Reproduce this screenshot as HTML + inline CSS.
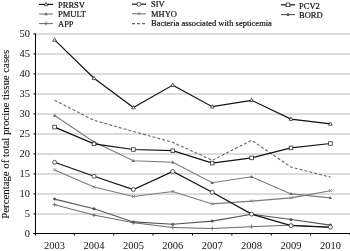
<!DOCTYPE html>
<html><head><meta charset="utf-8"><style>
html,body{margin:0;padding:0;background:#fff;}
svg{display:block;}
.tk{font-family:"Liberation Serif",serif;font-size:10.5px;fill:#111;}
.lg{font-family:"Liberation Serif",serif;font-size:8.5px;fill:#111;stroke:#111;stroke-width:0.2px;}
.yl{font-family:"Liberation Serif",serif;font-size:10.8px;fill:#111;stroke:#111;stroke-width:0.12px;}
</style></head><body>
<svg width="350" height="251" viewBox="0 0 350 251">
<line x1="36" y1="213.9" x2="350" y2="213.9" stroke="#d0d0d0" stroke-width="1.5"/>
<line x1="36" y1="193.9" x2="350" y2="193.9" stroke="#d0d0d0" stroke-width="1.5"/>
<line x1="36" y1="173.9" x2="350" y2="173.9" stroke="#d0d0d0" stroke-width="1.5"/>
<line x1="36" y1="153.9" x2="350" y2="153.9" stroke="#d0d0d0" stroke-width="1.5"/>
<line x1="36" y1="133.9" x2="350" y2="133.9" stroke="#d0d0d0" stroke-width="1.5"/>
<line x1="36" y1="113.9" x2="350" y2="113.9" stroke="#d0d0d0" stroke-width="1.5"/>
<line x1="36" y1="93.9" x2="350" y2="93.9" stroke="#d0d0d0" stroke-width="1.5"/>
<line x1="36" y1="73.9" x2="350" y2="73.9" stroke="#d0d0d0" stroke-width="1.5"/>
<line x1="36" y1="53.900000000000006" x2="350" y2="53.900000000000006" stroke="#d0d0d0" stroke-width="1.5"/>
<line x1="36" y1="33.900000000000006" x2="350" y2="33.900000000000006" stroke="#d0d0d0" stroke-width="1.5"/>
<line x1="35.5" y1="33.5" x2="35.5" y2="234" stroke="#000" stroke-width="1"/>
<line x1="33.5" y1="233.5" x2="350" y2="233.5" stroke="#000" stroke-width="1"/>
<line x1="33.5" y1="233.5" x2="35.5" y2="233.5" stroke="#000" stroke-width="1"/>
<text transform="translate(30,237.00) scale(1,1.04)" text-anchor="end" class="tk">0</text>
<line x1="33.5" y1="213.9" x2="35.5" y2="213.9" stroke="#000" stroke-width="1"/>
<text transform="translate(30,217.40) scale(1,1.04)" text-anchor="end" class="tk">5</text>
<line x1="33.5" y1="193.9" x2="35.5" y2="193.9" stroke="#000" stroke-width="1"/>
<text transform="translate(30,197.40) scale(1,1.04)" text-anchor="end" class="tk">10</text>
<line x1="33.5" y1="173.9" x2="35.5" y2="173.9" stroke="#000" stroke-width="1"/>
<text transform="translate(30,177.40) scale(1,1.04)" text-anchor="end" class="tk">15</text>
<line x1="33.5" y1="153.9" x2="35.5" y2="153.9" stroke="#000" stroke-width="1"/>
<text transform="translate(30,157.40) scale(1,1.04)" text-anchor="end" class="tk">20</text>
<line x1="33.5" y1="133.9" x2="35.5" y2="133.9" stroke="#000" stroke-width="1"/>
<text transform="translate(30,137.40) scale(1,1.04)" text-anchor="end" class="tk">25</text>
<line x1="33.5" y1="113.9" x2="35.5" y2="113.9" stroke="#000" stroke-width="1"/>
<text transform="translate(30,117.40) scale(1,1.04)" text-anchor="end" class="tk">30</text>
<line x1="33.5" y1="93.9" x2="35.5" y2="93.9" stroke="#000" stroke-width="1"/>
<text transform="translate(30,97.40) scale(1,1.04)" text-anchor="end" class="tk">35</text>
<line x1="33.5" y1="73.9" x2="35.5" y2="73.9" stroke="#000" stroke-width="1"/>
<text transform="translate(30,77.40) scale(1,1.04)" text-anchor="end" class="tk">40</text>
<line x1="33.5" y1="53.900000000000006" x2="35.5" y2="53.900000000000006" stroke="#000" stroke-width="1"/>
<text transform="translate(30,57.40) scale(1,1.04)" text-anchor="end" class="tk">45</text>
<line x1="33.5" y1="33.900000000000006" x2="35.5" y2="33.900000000000006" stroke="#000" stroke-width="1"/>
<text transform="translate(30,37.40) scale(1,1.04)" text-anchor="end" class="tk">50</text>
<line x1="35.50" y1="233.5" x2="35.50" y2="235.5" stroke="#000" stroke-width="1"/>
<line x1="74.30" y1="233.5" x2="74.30" y2="235.5" stroke="#000" stroke-width="1"/>
<line x1="113.70" y1="233.5" x2="113.70" y2="235.5" stroke="#000" stroke-width="1"/>
<line x1="153.10" y1="233.5" x2="153.10" y2="235.5" stroke="#000" stroke-width="1"/>
<line x1="192.50" y1="233.5" x2="192.50" y2="235.5" stroke="#000" stroke-width="1"/>
<line x1="231.90" y1="233.5" x2="231.90" y2="235.5" stroke="#000" stroke-width="1"/>
<line x1="271.30" y1="233.5" x2="271.30" y2="235.5" stroke="#000" stroke-width="1"/>
<line x1="310.70" y1="233.5" x2="310.70" y2="235.5" stroke="#000" stroke-width="1"/>
<line x1="350.10" y1="233.5" x2="350.10" y2="235.5" stroke="#000" stroke-width="1"/>
<text transform="translate(54.60,248.6) scale(1,1.04)" text-anchor="middle" class="tk">2003</text>
<text transform="translate(94.00,248.6) scale(1,1.04)" text-anchor="middle" class="tk">2004</text>
<text transform="translate(133.40,248.6) scale(1,1.04)" text-anchor="middle" class="tk">2005</text>
<text transform="translate(172.80,248.6) scale(1,1.04)" text-anchor="middle" class="tk">2006</text>
<text transform="translate(212.20,248.6) scale(1,1.04)" text-anchor="middle" class="tk">2007</text>
<text transform="translate(251.60,248.6) scale(1,1.04)" text-anchor="middle" class="tk">2008</text>
<text transform="translate(291.00,248.6) scale(1,1.04)" text-anchor="middle" class="tk">2009</text>
<text transform="translate(330.40,248.6) scale(1,1.04)" text-anchor="middle" class="tk">2010</text>
<text transform="translate(9.2,134.3) rotate(-90)" text-anchor="middle" class="yl">Percentage of total procine tissue cases</text>
<polyline points="54.60,204.70 94.00,215.10 133.40,222.70 172.80,227.50 212.20,228.50 251.60,226.70 291.00,225.10 330.40,227.50" fill="none" stroke="#6a6a6a" stroke-width="1.0" stroke-linejoin="miter"/>
<path d="M52.60,204.70 L56.60,204.70 M54.60,202.70 L54.60,206.70" stroke="#6a6a6a" stroke-width="0.9"/>
<path d="M92.00,215.10 L96.00,215.10 M94.00,213.10 L94.00,217.10" stroke="#6a6a6a" stroke-width="0.9"/>
<path d="M131.40,222.70 L135.40,222.70 M133.40,220.70 L133.40,224.70" stroke="#6a6a6a" stroke-width="0.9"/>
<path d="M170.80,227.50 L174.80,227.50 M172.80,225.50 L172.80,229.50" stroke="#6a6a6a" stroke-width="0.9"/>
<path d="M210.20,228.50 L214.20,228.50 M212.20,226.50 L212.20,230.50" stroke="#6a6a6a" stroke-width="0.9"/>
<path d="M249.60,226.70 L253.60,226.70 M251.60,224.70 L251.60,228.70" stroke="#6a6a6a" stroke-width="0.9"/>
<path d="M289.00,225.10 L293.00,225.10 M291.00,223.10 L291.00,227.10" stroke="#6a6a6a" stroke-width="0.9"/>
<path d="M328.40,227.50 L332.40,227.50 M330.40,225.50 L330.40,229.50" stroke="#6a6a6a" stroke-width="0.9"/>
<polyline points="54.60,199.10 94.00,208.70 133.40,221.90 172.80,224.30 212.20,221.10 251.60,214.30 291.00,219.50 330.40,225.10" fill="none" stroke="#555" stroke-width="1.1" stroke-linejoin="miter"/>
<circle cx="54.60" cy="199.10" r="1.5" fill="#555"/>
<circle cx="94.00" cy="208.70" r="1.5" fill="#555"/>
<circle cx="133.40" cy="221.90" r="1.5" fill="#555"/>
<circle cx="172.80" cy="224.30" r="1.5" fill="#555"/>
<circle cx="212.20" cy="221.10" r="1.5" fill="#555"/>
<circle cx="251.60" cy="214.30" r="1.5" fill="#555"/>
<circle cx="291.00" cy="219.50" r="1.5" fill="#555"/>
<circle cx="330.40" cy="225.10" r="1.5" fill="#555"/>
<polyline points="54.60,169.90 94.00,187.10 133.40,196.50 172.80,191.50 212.20,203.90 251.60,201.10 291.00,197.90 330.40,190.70" fill="none" stroke="#7a7a7a" stroke-width="1.1" stroke-linejoin="miter"/>
<path d="M53.10,168.30 L56.10,171.30 M53.10,171.30 L56.10,168.30" stroke="#7a7a7a" stroke-width="0.8"/>
<path d="M92.50,185.50 L95.50,188.50 M92.50,188.50 L95.50,185.50" stroke="#7a7a7a" stroke-width="0.8"/>
<path d="M131.90,194.90 L134.90,197.90 M131.90,197.90 L134.90,194.90" stroke="#7a7a7a" stroke-width="0.8"/>
<path d="M171.30,189.90 L174.30,192.90 M171.30,192.90 L174.30,189.90" stroke="#7a7a7a" stroke-width="0.8"/>
<path d="M210.70,202.30 L213.70,205.30 M210.70,205.30 L213.70,202.30" stroke="#7a7a7a" stroke-width="0.8"/>
<path d="M250.10,199.50 L253.10,202.50 M250.10,202.50 L253.10,199.50" stroke="#7a7a7a" stroke-width="0.8"/>
<path d="M289.50,196.30 L292.50,199.30 M289.50,199.30 L292.50,196.30" stroke="#7a7a7a" stroke-width="0.8"/>
<path d="M328.90,189.10 L331.90,192.10 M328.90,192.10 L331.90,189.10" stroke="#7a7a7a" stroke-width="0.8"/>
<polyline points="54.60,115.50 94.00,141.90 133.40,160.70 172.80,162.30 212.20,182.70 251.60,176.70 291.00,193.90 330.40,197.90" fill="none" stroke="#7a7a7a" stroke-width="1.1" stroke-linejoin="miter"/>
<path d="M54.60,113.70 L56.30,116.70 L52.90,116.70 Z" fill="#666" stroke="none"/>
<path d="M94.00,140.10 L95.70,143.10 L92.30,143.10 Z" fill="#666" stroke="none"/>
<path d="M133.40,158.90 L135.10,161.90 L131.70,161.90 Z" fill="#666" stroke="none"/>
<path d="M172.80,160.50 L174.50,163.50 L171.10,163.50 Z" fill="#666" stroke="none"/>
<path d="M212.20,180.90 L213.90,183.90 L210.50,183.90 Z" fill="#666" stroke="none"/>
<path d="M251.60,174.90 L253.30,177.90 L249.90,177.90 Z" fill="#666" stroke="none"/>
<path d="M291.00,192.10 L292.70,195.10 L289.30,195.10 Z" fill="#666" stroke="none"/>
<path d="M330.40,196.10 L332.10,199.10 L328.70,199.10 Z" fill="#666" stroke="none"/>
<polyline points="54.60,100.30 94.00,120.30 133.40,131.50 172.80,142.30 212.20,160.30 251.60,140.30 291.00,167.10 330.40,177.10" fill="none" stroke="#666" stroke-width="1.1" stroke-dasharray="3,2" stroke-linejoin="miter"/>
<polyline points="54.60,162.30 94.00,176.30 133.40,189.50 172.80,171.50 212.20,192.30 251.60,214.10 291.00,225.70 330.40,227.10" fill="none" stroke="#111" stroke-width="1.2" stroke-linejoin="miter"/>
<circle cx="54.60" cy="162.30" r="2.0" fill="#fff" stroke="#333" stroke-width="0.8"/>
<circle cx="94.00" cy="176.30" r="2.0" fill="#fff" stroke="#333" stroke-width="0.8"/>
<circle cx="133.40" cy="189.50" r="2.0" fill="#fff" stroke="#333" stroke-width="0.8"/>
<circle cx="172.80" cy="171.50" r="2.0" fill="#fff" stroke="#333" stroke-width="0.8"/>
<circle cx="212.20" cy="192.30" r="2.0" fill="#fff" stroke="#333" stroke-width="0.8"/>
<circle cx="251.60" cy="214.10" r="2.0" fill="#fff" stroke="#333" stroke-width="0.8"/>
<circle cx="291.00" cy="225.70" r="2.0" fill="#fff" stroke="#333" stroke-width="0.8"/>
<circle cx="330.40" cy="227.10" r="2.0" fill="#fff" stroke="#333" stroke-width="0.8"/>
<polyline points="54.60,127.10 94.00,143.90 133.40,149.50 172.80,150.70 212.20,163.10 251.60,157.90 291.00,147.90 330.40,143.50" fill="none" stroke="#111" stroke-width="1.2" stroke-linejoin="miter"/>
<rect x="52.80" y="125.30" width="3.6" height="3.6" fill="#fff" stroke="#333" stroke-width="0.8"/>
<rect x="92.20" y="142.10" width="3.6" height="3.6" fill="#fff" stroke="#333" stroke-width="0.8"/>
<rect x="131.60" y="147.70" width="3.6" height="3.6" fill="#fff" stroke="#333" stroke-width="0.8"/>
<rect x="171.00" y="148.90" width="3.6" height="3.6" fill="#fff" stroke="#333" stroke-width="0.8"/>
<rect x="210.40" y="161.30" width="3.6" height="3.6" fill="#fff" stroke="#333" stroke-width="0.8"/>
<rect x="249.80" y="156.10" width="3.6" height="3.6" fill="#fff" stroke="#333" stroke-width="0.8"/>
<rect x="289.20" y="146.10" width="3.6" height="3.6" fill="#fff" stroke="#333" stroke-width="0.8"/>
<rect x="328.60" y="141.70" width="3.6" height="3.6" fill="#fff" stroke="#333" stroke-width="0.8"/>
<polyline points="54.60,39.90 94.00,78.30 133.40,107.50 172.80,85.10 212.20,106.70 251.60,100.30 291.00,119.10 330.40,123.90" fill="none" stroke="#111" stroke-width="1.2" stroke-linejoin="miter"/>
<path d="M54.60,37.90 L56.40,41.20 L52.80,41.20 Z" fill="#fff" stroke="#333" stroke-width="0.8"/>
<path d="M94.00,76.30 L95.80,79.60 L92.20,79.60 Z" fill="#fff" stroke="#333" stroke-width="0.8"/>
<path d="M133.40,105.50 L135.20,108.80 L131.60,108.80 Z" fill="#fff" stroke="#333" stroke-width="0.8"/>
<path d="M172.80,83.10 L174.60,86.40 L171.00,86.40 Z" fill="#fff" stroke="#333" stroke-width="0.8"/>
<path d="M212.20,104.70 L214.00,108.00 L210.40,108.00 Z" fill="#fff" stroke="#333" stroke-width="0.8"/>
<path d="M251.60,98.30 L253.40,101.60 L249.80,101.60 Z" fill="#fff" stroke="#333" stroke-width="0.8"/>
<path d="M291.00,117.10 L292.80,120.40 L289.20,120.40 Z" fill="#fff" stroke="#333" stroke-width="0.8"/>
<path d="M330.40,121.90 L332.20,125.20 L328.60,125.20 Z" fill="#fff" stroke="#333" stroke-width="0.8"/>
<line x1="39" y1="4.4" x2="53" y2="4.4" stroke="#111" stroke-width="1.2"/>
<path d="M46.00,2.40 L47.80,5.70 L44.20,5.70 Z" fill="#fff" stroke="#333" stroke-width="0.8"/>
<text transform="translate(58,8.00) scale(1,1.04)" class="lg">PRRSV</text>
<line x1="39" y1="14" x2="53" y2="14" stroke="#7a7a7a" stroke-width="1.1"/>
<path d="M46.00,12.20 L47.70,15.20 L44.30,15.20 Z" fill="#666" stroke="none"/>
<text transform="translate(58,17.30) scale(1,1.04)" class="lg">PMULT</text>
<line x1="39" y1="23.6" x2="53" y2="23.6" stroke="#6a6a6a" stroke-width="1.0"/>
<path d="M44.00,23.60 L48.00,23.60 M46.00,21.60 L46.00,25.60" stroke="#6a6a6a" stroke-width="0.9"/>
<text transform="translate(58,27.30) scale(1,1.04)" class="lg">APP</text>
<line x1="132" y1="4.2" x2="146" y2="4.2" stroke="#111" stroke-width="1.2"/>
<circle cx="139.00" cy="4.20" r="2.0" fill="#fff" stroke="#333" stroke-width="0.8"/>
<text transform="translate(151,7.00) scale(1,1.04)" class="lg">SIV</text>
<line x1="132" y1="13.8" x2="146" y2="13.8" stroke="#7a7a7a" stroke-width="1.1"/>
<path d="M137.50,12.20 L140.50,15.20 M137.50,15.20 L140.50,12.20" stroke="#7a7a7a" stroke-width="0.8"/>
<text transform="translate(151,16.50) scale(1,1.04)" class="lg">MHYO</text>
<line x1="132" y1="23.6" x2="146" y2="23.6" stroke="#666" stroke-width="1.1" stroke-dasharray="3,2"/>
<text transform="translate(151,26.20) scale(1,1.04)" class="lg">Bacteria associated with septicemia</text>
<line x1="281" y1="4.8" x2="295" y2="4.8" stroke="#111" stroke-width="1.2"/>
<rect x="286.20" y="3.00" width="3.6" height="3.6" fill="#fff" stroke="#333" stroke-width="0.8"/>
<text transform="translate(299,8.60) scale(1,1.04)" class="lg">PCV2</text>
<line x1="281" y1="14.6" x2="295" y2="14.6" stroke="#555" stroke-width="1.1"/>
<circle cx="288.00" cy="14.60" r="1.5" fill="#555"/>
<text transform="translate(299,18.00) scale(1,1.04)" class="lg">BORD</text>
</svg>
</body></html>
